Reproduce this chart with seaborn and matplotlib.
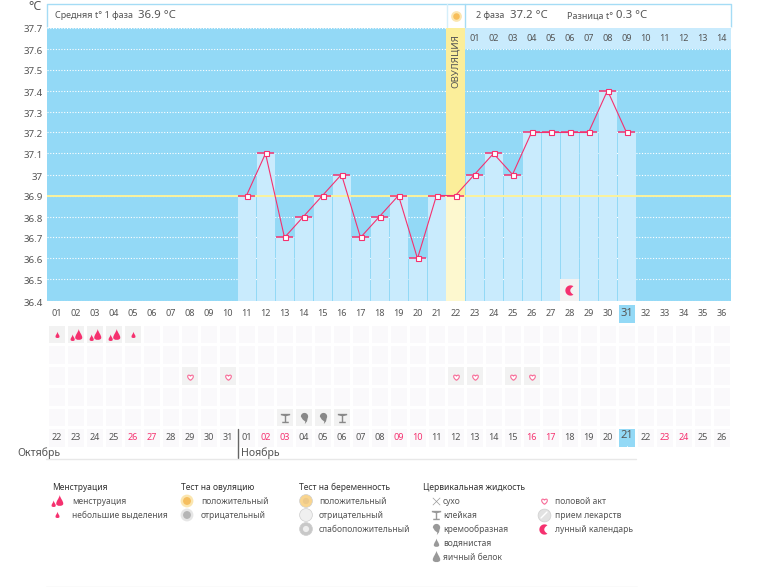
import numpy as np
import pandas as pd
import seaborn as sns
import matplotlib.pyplot as plt
from matplotlib.colors import ListedColormap
from matplotlib.path import Path
from matplotlib.transforms import Affine2D, offset_copy

# data
days = list(range(11, 32))
temps = [36.9, 37.1, 36.7, 36.8, 36.9, 37.0, 36.7, 36.8, 36.9, 36.6, 36.9,
         36.9, 37.0, 37.1, 37.0, 37.2, 37.2, 37.2, 37.2, 37.4, 37.2]
y_ticks = [36.4, 36.5, 36.6, 36.7, 36.8, 36.9, 37.0, 37.1, 37.2, 37.3, 37.4, 37.5, 37.6, 37.7]
cover_line = 36.9
ovulation_day = 22
phase_days = list(range(23, 37))
cycle_days = list(range(1, 37))
today = 31
moon_days = [28]
dates = [22, 23, 24, 25, 26, 27, 28, 29, 30, 31, 1, 2, 3, 4, 5, 6, 7, 8,
         9, 10, 11, 12, 13, 14, 15, 16, 17, 18, 19, 20, 21, 22, 23, 24, 25, 26]
weekend_days = [5, 6, 12, 13, 19, 20, 26, 27, 33, 34]
light_flow = [1, 5]
heavy_flow = [2, 3, 4]
sex_days = [8, 10, 22, 23, 25, 26]
sticky_days = [13, 16]
creamy_days = [14, 15]

W, H = 769, 587
BLUE = '#93D9F6'
PALE = '#C9EBFD'
PINK = '#F5316F'
TXT = '#555555'

sns.set_theme(style='white')
plt.rcParams['font.family'] = ['Noto Sans', 'DejaVu Sans']


def px_axes(fig, x0, y0, x1, y1):
    return fig.add_axes([x0 / W, 1 - y1 / H, (x1 - x0) / W, (y1 - y0) / H])


# marker shapes
def drop_path():
    return Path([(0, 1), (.12, .45), (.55, .1), (.55, -.35), (.55, -.8), (-.55, -.8), (-.55, -.35),
                 (-.55, .1), (-.12, .45), (0, 1)], [Path.MOVETO] + [Path.CURVE4] * 9)


def heavy_path():
    big = drop_path().transformed(Affine2D().translate(.35, 0))
    small = drop_path().transformed(Affine2D().scale(.6).translate(-.6, -.45))
    return Path.make_compound_path(big, small)


def heart_path():
    return Path([(0, -1), (-1.7, .1), (-.9, 1.5), (0, .5), (.9, 1.5), (1.7, .1), (0, -1)],
                [Path.MOVETO] + [Path.CURVE4] * 6)


def moon_path():
    a = np.radians(np.linspace(55, 305, 30))
    outer = np.c_[np.cos(a), np.sin(a)]
    ys = np.linspace(-.82, .82, 15)
    inner = np.c_[-.05 + .62 * (ys / .82) ** 2, ys]
    return Path(np.r_[outer, inner, outer[:1]], closed=True)


def sticky_path():
    return Path([(-1, 1), (1, 1), (1, .7), (.15, .5), (.15, -.7), (.7, -.7), (.7, -1), (-.7, -1),
                 (-.7, -.7), (-.15, -.7), (-.15, .5), (-1, .7), (-1, 1)], closed=True)


def creamy_path():
    a = np.radians(np.linspace(180, -30, 24))
    head = np.c_[.65 * np.cos(a), .35 + .65 * np.sin(a)]
    return Path(np.r_[head, [(.45, -.5), (.05, -1), (.15, -.55), (-.3, -.2)], head[:1]], closed=True)


fig = plt.figure(figsize=(W / 100, H / 100), dpi=100, facecolor='white')

# temperature chart
ax = px_axes(fig, 47, 27.5, 731, 300.5)
ax.set_facecolor(BLUE)
df = pd.DataFrame({'day': days, 'temp': temps})
df['kind'] = ['ov' if d == ovulation_day else 'normal' for d in days]
ax.axvspan(ovulation_day - .5, ovulation_day + .5, color='#FBEE9A', lw=0)
sns.barplot(data=df, x='day', y='temp', hue='kind', native_scale=True, dodge=False, width=.95,
            palette={'normal': PALE, 'ov': '#FDF8CF'}, saturation=1, linewidth=0, legend=False, ax=ax)
# one pixel gap on the left of each bar, edges picked so pixel snapping keeps it
for bar in ax.patches:
    if bar.get_height() > 1:
        centre = bar.get_x() + bar.get_width() / 2
        if round(centre) == ovulation_day:
            bar.set_x(centre - .5)
            bar.set_width(1)
        else:
            bar.set_x(centre - .45)
            bar.set_width(.95)
ax.bar(phase_days, [.1] * len(phase_days), bottom=37.6, width=.95, color=PALE, lw=0, zorder=1.5)
ax.bar(moon_days, [.1] * len(moon_days), bottom=36.4, width=.95, color='#F2F2F2', lw=0, zorder=1.5)
ax.axhline(cover_line, color='#FBF29C', lw=1.4, zorder=2)
ax.hlines(temps, np.array(days) - .47, np.array(days) + .47, colors=PINK, lw=1.1, zorder=3)
sns.lineplot(data=df, x='day', y='temp', color=PINK, lw=.8, marker='s', markersize=3.6, markerfacecolor='white',
             markeredgecolor=PINK, markeredgewidth=.8, errorbar=None, zorder=4, ax=ax)
ax.scatter(moon_days, [36.45] * len(moon_days), marker=moon_path(), s=55, color=PINK, lw=0, zorder=4)
for i, d in enumerate(phase_days):
    ax.text(d, 37.65, '%02d' % (i + 1), ha='center', va='center', fontsize=6.5, color=TXT, zorder=5)
ax.text(ovulation_day, 37.67, 'ОВУЛЯЦИЯ', rotation=90, ha='center', va='top', fontsize=7, color=TXT, zorder=5)
ax.set_xlim(.5, 36.5)
ax.set_ylim(36.4, 37.7)
ax.set_xticks([])
ax.set_yticks(y_ticks)
ax.set_yticklabels(['%g' % t for t in y_ticks], fontsize=7, color=TXT)
ax.tick_params(axis='y', length=0, pad=3)
for lab in ax.get_yticklabels():
    lab.set_transform(offset_copy(lab.get_transform(), fig=fig, y=-1.5, units='dots'))
ax.set_axisbelow(True)
ax.yaxis.grid(True, linestyle=(0, (1, 1.5)), color='white', lw=.8)
ax.set_xlabel('')
ax.set_ylabel('')
sns.despine(ax=ax, left=True, bottom=True)

# calendar grid
cal = px_axes(fig, 47, 303, 731, 448)
grid = np.ones((7, 36))
grid[0, :] = 0
grid[:, today - 1][[0, 6]] = 3
for row, event_days in [(1, light_flow + heavy_flow), (3, sex_days), (5, sticky_days + creamy_days)]:
    for d in event_days:
        grid[row, d - 1] = 2
cmap = ListedColormap(['white', '#FAF9FB', '#F2F2F2', BLUE])
sns.heatmap(grid, cmap=cmap, vmin=0, vmax=3, cbar=False, linewidths=1, linecolor='white',
            xticklabels=False, yticklabels=False, ax=cal)
for d in cycle_days:
    big = d == today
    cal.text(d - .5, .5, '%02d' % d, ha='center', va='center', color=TXT, fontsize=8 if big else 6.5)
for d, n in zip(cycle_days, dates):
    big = d == today
    col = PINK if d in weekend_days else TXT
    cal.text(d - .5, 6.42 if big else 6.5, '%02d' % n, ha='center', va='center', color=col, fontsize=8 if big else 6.5)
cal.scatter([today - .5], [6.93], marker='^', s=6, color='white', lw=0, clip_on=False)
cal.scatter(np.array(light_flow) - .5, [1.55] * len(light_flow), marker=drop_path(), s=28, color=PINK, lw=0)
cal.scatter(np.array(heavy_flow) - .5, [1.55] * len(heavy_flow), marker=heavy_path(), s=85, color=PINK, lw=0)
cal.scatter(np.array(sex_days) - .5, [3.55] * len(sex_days), marker=heart_path(), s=48, facecolor='white', edgecolor='#F76C98', lw=.8)
cal.scatter(np.array(sticky_days) - .5, [5.55] * len(sticky_days), marker=sticky_path(), s=45, color='#888888', lw=0)
cal.scatter(np.array(creamy_days) - .5, [5.55] * len(creamy_days), marker=creamy_path(), s=65, color='#888888', lw=0)

# header, month labels and legend in pixel coords
ov = fig.add_axes([0, 0, 1, 1], facecolor='none', zorder=5)
ov.set_xlim(0, W)
ov.set_ylim(H, 0)
ov.axis('off')
border = '#A5DCF5'
ov.plot([47, 47, 731, 731], [27, 3.5, 3.5, 27], color=border, lw=1)
ov.plot([47, 731], [27, 27], color='white', lw=.6)
ov.plot([447, 447], [3.5, 27], color='#D5EFFA', lw=1)
ov.plot([465, 465], [3.5, 27], color=border, lw=1)
ov.scatter([456], [16], s=60, color='#FBE6B0', lw=0)
ov.scatter([456], [16], s=22, color='#F7BE5A', lw=0)


def label(x, y, s, size=6.5, color=TXT):
    ov.text(x, y, s, fontsize=size, color=color, va='center', ha='left')


ov.text(35, 6.5, '°C', fontsize=9, color=TXT, ha='center', va='center')
label(55, 16, 'Средняя t° 1 фаза')
label(138, 15.5, '36.9 °C', size=8.2)
label(476, 16, '2 фаза')
label(510, 15.5, '37.2 °C', size=8.2)
label(567, 16, 'Разница t°')
label(616, 15.5, '0.3 °C', size=8.2)
label(17, 453, 'Октябрь', size=7.6)
label(241, 453, 'Ноябрь', size=7.6)
ov.plot([237.5, 237.5], [429, 458], color='#666666', lw=1)
ov.plot([46, 636], [458.5, 458.5], color='#E8E8E8', lw=1)
ov.plot([46, 637], [586.5, 586.5], color='#E8E8E8', lw=1)

legend_titles = [(52, 'Менструация'), (181, 'Тест на овуляцию'), (299, 'Тест на беременность'), (423, 'Цервикальная жидкость')]
for x, s in legend_titles:
    label(x, 487, s, size=6.1, color='#333333')

legend_rows = [
    (72, ['менструация', 'небольшие выделения']),
    (201, ['положительный', 'отрицательный']),
    (319, ['положительный', 'отрицательный', 'слабоположительный']),
    (443, ['сухо', 'клейкая', 'кремообразная', 'водянистая', 'яичный белок']),
    (555, ['половой акт', 'прием лекарств', 'лунный календарь']),
]
for x, items in legend_rows:
    for i, s in enumerate(items):
        label(x, 501 + 14 * i, s, size=6.1)

grey = '#999999'
ov.scatter([57], [501], marker=heavy_path(), s=85, color=PINK, lw=0)
ov.scatter([57], [515], marker=drop_path(), s=28, color=PINK, lw=0)
ov.scatter([187, 187], [501, 515], s=85, color=['#FBE6B0', '#E6E6E6'], lw=0)
ov.scatter([187, 187], [501, 515], s=32, color=['#F5BE5F', '#B5B5B5'], lw=0)
ov.scatter([306, 306, 306], [501, 515, 529], s=85, color=['#F9D58F', '#F0F0F0', '#C8C8C8'], edgecolor='#CFCFCF', lw=.5)
ov.scatter([306, 306], [501, 529], s=20, color=['#EDC98A', '#EEEEEE'], lw=0)
ov.scatter([436], [501], marker='x', s=28, color=grey, lw=.5)
ov.scatter([436], [515], marker=sticky_path(), s=45, color=grey, lw=0)
ov.scatter([436], [529], marker=creamy_path(), s=65, color=grey, lw=0)
ov.scatter([436], [543], marker=drop_path(), s=50, color=grey, lw=0)
ov.scatter([436], [557], marker=drop_path(), s=95, color=grey, lw=0)
ov.scatter([544], [501], marker=heart_path(), s=48, facecolor='white', edgecolor='#F76C98', lw=.8)
ov.scatter([544], [515], s=85, color='#E2E2E2', edgecolor='#CFCFCF', lw=.5)
ov.plot([541, 547], [518, 512], color='white', lw=1)
ov.scatter([544], [529], marker=moon_path(), s=55, color=PINK, lw=0)

fig.savefig('out.png', dpi=100)
